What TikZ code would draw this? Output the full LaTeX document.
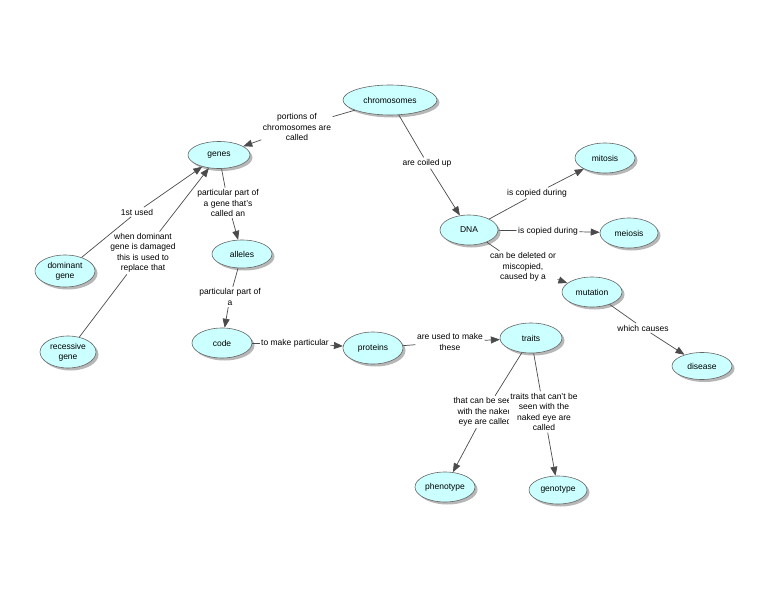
\documentclass[tikz,border=0pt]{standalone}
\usepackage{fontspec}
\setmainfont{Liberation Sans}
\usetikzlibrary{shapes.geometric,shadows,arrows.meta}
\definecolor{conceptfill}{RGB}{204,255,255}
\definecolor{linkgray}{RGB}{75,75,75}

\begin{document}
\begin{tikzpicture}[x=1pt,y=-1pt,
  concept/.style={ellipse, draw=linkgray!85, line width=0.6pt, fill=conceptfill,
    minimum width=60pt, minimum height=30pt, inner sep=0pt, align=center,
    font=\fontsize{8.5}{10}\selectfont,
    drop shadow={shadow xshift=2.5pt, shadow yshift=-2.5pt, fill=black!40, opacity=0.7}},
  phrase/.style={align=center, inner sep=1.5pt, font=\fontsize{8.5}{10.5}\selectfont},
  link/.style={draw=linkgray, line width=0.7pt},
  linkto/.style={link, -{Triangle[length=9pt,width=7pt]}}]

        \useasboundingbox (0,0) rectangle (768,594);

        % concepts
        \node[concept, minimum width=94pt] (chrom) at (390,100) {chromosomes};
        \node[concept, minimum width=62pt, minimum height=27pt] (genes) at (219,155) {genes};
        \node[concept, minimum height=28pt] (alleles) at (242,254) {alleles};
        \node[concept, minimum height=32pt] (domgene) at (65,271) {dominant\\gene};
        \node[concept, minimum width=56pt, minimum height=32pt] (recgene) at (68,352) {recessive\\gene};
        \node[concept] (code) at (222,343) {code};
        \node[concept, minimum height=32pt] (proteins) at (373,348) {proteins};
        \node[concept, minimum width=62pt] (traits) at (531,338) {traits};
        \node[concept, minimum width=58pt] (dna) at (469,230) {DNA};
        \node[concept] (mitosis) at (605,158) {mitosis};
        \node[concept, minimum width=58pt] (meiosis) at (629,233) {meiosis};
        \node[concept] (mutation) at (592,292) {mutation};
        \node[concept, minimum height=27pt] (disease) at (702,366) {disease};
        \node[concept] (phenotype) at (445,487) {phenotype};
        \node[concept, minimum width=58pt, minimum height=28pt] (genotype) at (558,490) {genotype};

        % linking phrases
        \node[phrase] (lportions) at (297,127) {portions of\\chromosomes are\\called};
        \node[phrase] (lcoiled) at (427,163) {are coiled up};
        \node[phrase] (lpartgene) at (228,203) {particular part of\\a gene that's\\called an};
        \node[phrase] (lfirst) at (137,212) {1st used};
        \node[phrase] (lwhen) at (143,253) {when dominant\\gene is damaged\\this is used to\\replace that};
        \node[phrase] (lparta) at (230,297) {particular part of\\a};
        \node[phrase] (ltomake) at (295,343) {to make particular};
        \node[phrase] (lusedto) at (450,342) {are used to make\\these};
        \node[phrase] (lcopmit) at (537,193) {is copied during};
        \node[phrase] (lcopmei) at (548,231) {is copied during};
        \node[phrase] (ldeleted) at (523,267) {can be deleted or\\miscopied,\\caused by a};
        \node[phrase] (lcauses) at (643,328) {which causes};
        \node[phrase] (lseen) at (485,412) {that can be seen\\with the naked\\eye are called};
        \node[phrase, fill=white] (lunseen) at (544,412) {traits that can't be\\seen with the\\naked eye are\\called};

        % connectors
        \draw[link] (chrom) -- (lportions);
        \draw[linkto] (lportions) -- (genes);
        \draw[link] (chrom) -- (lcoiled);
        \draw[linkto] (lcoiled) -- (dna);
        \draw[link] (genes) -- (lpartgene);
        \draw[linkto] (lpartgene) -- (alleles);
        \draw[link] (domgene) -- (lfirst);
        \draw[linkto] (lfirst) -- (genes);
        \draw[link] (recgene) -- (lwhen);
        \draw[linkto] (lwhen) -- (genes);
        \draw[link] (alleles) -- (lparta);
        \draw[linkto] (lparta) -- (code);
        \draw[link] (code) -- (ltomake);
        \draw[linkto] (ltomake) -- (proteins);
        \draw[link] (proteins) -- (lusedto);
        \draw[linkto] (lusedto) -- (traits);
        \draw[link] (dna) -- (lcopmit);
        \draw[linkto] (lcopmit) -- (mitosis);
        \draw[link] (dna) -- (lcopmei);
        \draw[linkto] (lcopmei) -- (meiosis);
        \draw[link] (dna) -- (ldeleted);
        \draw[linkto] (ldeleted) -- (mutation);
        \draw[link] (mutation) -- (lcauses);
        \draw[linkto] (lcauses) -- (disease);
        \draw[link] (traits) -- (lseen);
        \draw[linkto] (lseen) -- (phenotype);
        \draw[link] (traits) -- (lunseen);
        \draw[linkto] (lunseen) -- (genotype);

      \end{tikzpicture}
\end{document}
